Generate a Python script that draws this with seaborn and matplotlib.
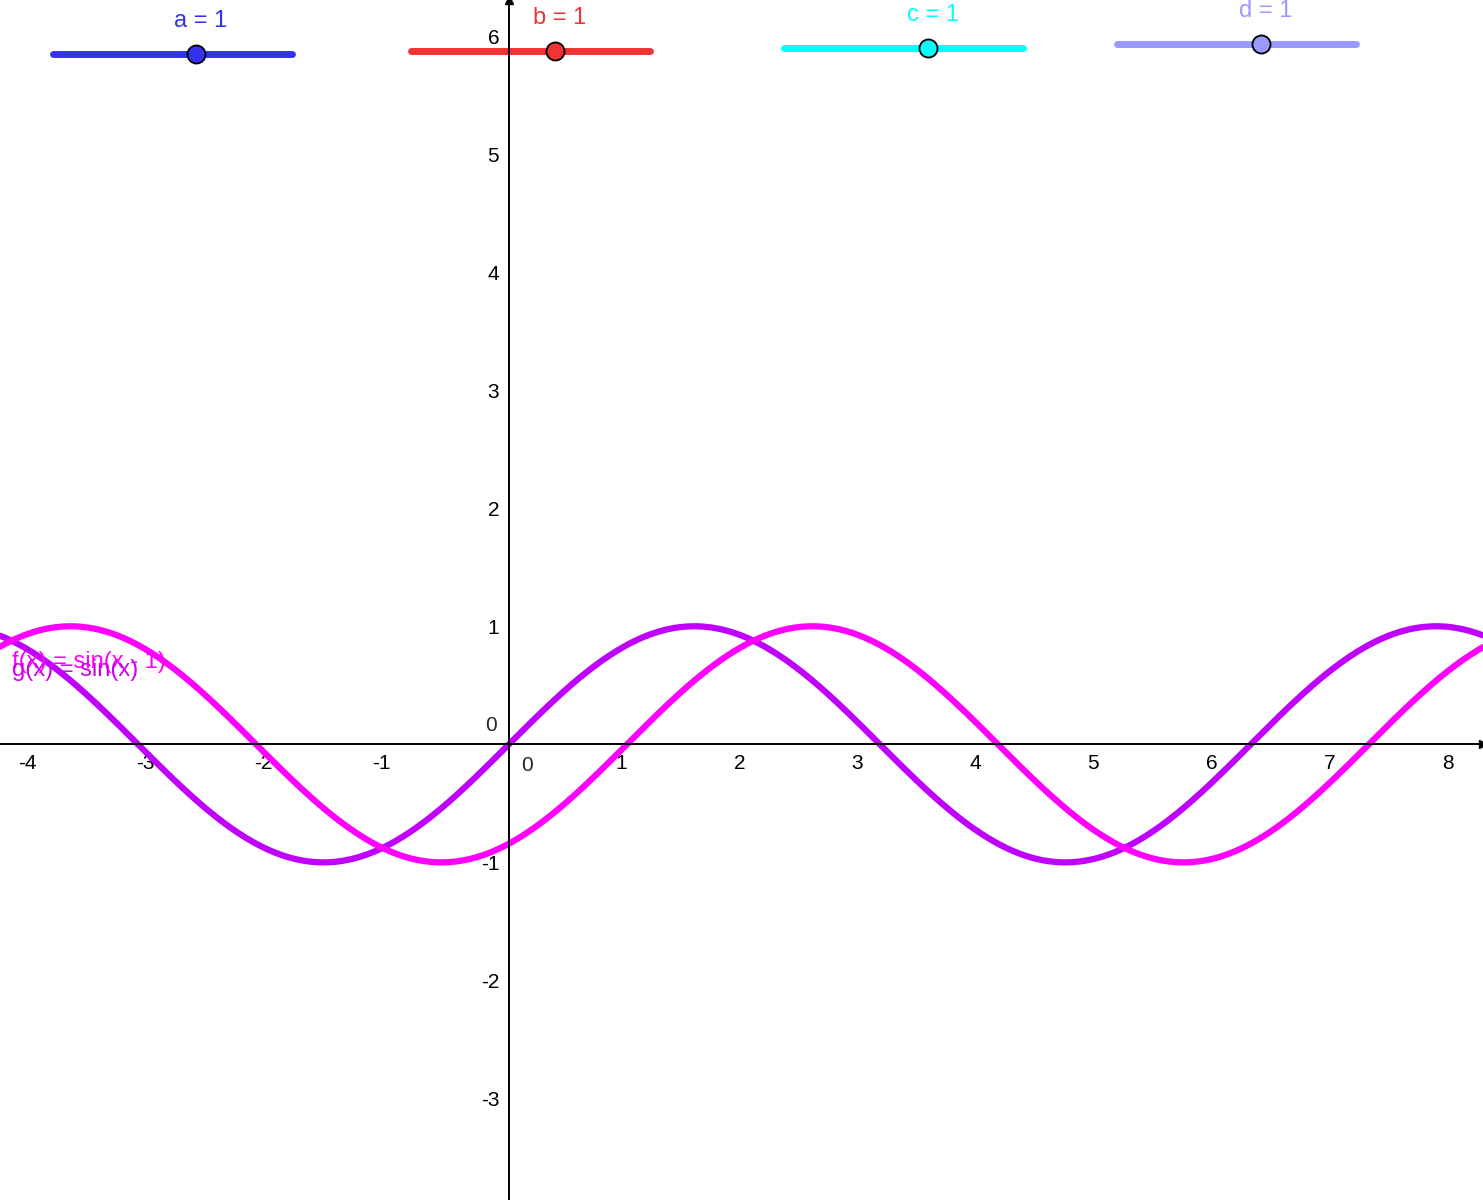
import numpy as np
import pandas as pd
import seaborn as sns
import matplotlib.pyplot as plt

sns.set_style("white")
plt.rcParams['font.family'] = ['Liberation Sans', 'DejaVu Sans']
plt.rcParams['axes.unicode_minus'] = False

# slider parameters
slider_names = ["a", "b", "c", "d"]
slider_values = [1, 1, 1, 1]
slider_colors = ["#3333ee", "#f03333", "#00ffff", "#9999ff"]

# functions shown: g(x) = sin(x), f(x) = sin(x - 1)
shift_g = 0
shift_f = 1
x_min, x_max = -4.31, 8.25
y_min, y_max = -3.86, 6.305

xs = np.linspace(x_min, x_max, 600)
df = pd.DataFrame({
    "x": np.concatenate([xs, xs]),
    "y": np.concatenate([np.sin(xs - shift_g), np.sin(xs - shift_f)]),
    "fn": ["g"] * len(xs) + ["f"] * len(xs),
})

fig = plt.figure(figsize=(14.83, 12), dpi=100)
ax = fig.add_axes([0, 0, 1, 1])
sns.lineplot(data=df, x="x", y="y", hue="fn", palette={"g": "#bf00ff", "f": "#ff00ff"},
             linewidth=4.5, legend=False, ax=ax, sort=False, estimator=None)
ax.set_xlim(x_min, x_max)
ax.set_ylim(y_min, y_max)
ax.set_xlabel("")
ax.set_ylabel("")

for s in ["top", "right"]:
    ax.spines[s].set_visible(False)
for s in ["left", "bottom"]:
    ax.spines[s].set_position(("data", 0))
    ax.spines[s].set_linewidth(1.4)
    ax.spines[s].set_color("black")
ax.set_xticks([t for t in range(-4, 9) if t != 0])
ax.set_yticks([t for t in range(-3, 7) if t != 0])
ax.tick_params(direction="inout", length=7, width=1.2, labelsize=15, colors="black")
for lab in ax.get_xticklabels():
    lab.set_horizontalalignment("right")
ax.text(-0.1, 0.08, "0", ha="right", va="bottom", fontsize=15)
ax.text(0.15, -0.1, "0", ha="center", va="top", fontsize=15)
ax.plot(1, 0, ">", transform=ax.get_yaxis_transform(), clip_on=False, color="black", ms=6)
ax.plot(0, 1, "^", transform=ax.get_xaxis_transform(), clip_on=False, color="black", ms=6)

ax.text(0.008, 0.443, "f(x) = sin(x - 1)", transform=ax.transAxes, color="#ff00ff", fontsize=17)
ax.text(0.008, 0.437, "g(x) = sin(x)", transform=ax.transAxes, color="#cc00ee", fontsize=17)

# sliders in pixel-fraction coordinates
starts = [53, 411, 784, 1117]
ys = [54, 51, 48, 44]
points = [196, 555, 928, 1261]
W, H = 1483, 1200
for name, val, col, x0, y0, px in zip(slider_names, slider_values, slider_colors, starts, ys, points):
    yf = 1 - y0 / H
    ax.plot([x0 / W, (x0 + 239) / W], [yf, yf], color=col, lw=5, transform=ax.transAxes,
            solid_capstyle="round", clip_on=False)
    ax.plot(px / W, yf, "o", color=col, mec="black", mew=1.3, ms=13, transform=ax.transAxes)
    ax.text((px + 5) / W, yf + 0.018, f"{name} = {val}", color=col, fontsize=17,
            ha="center", va="bottom", transform=ax.transAxes)

fig.savefig("out.png", dpi=100)
